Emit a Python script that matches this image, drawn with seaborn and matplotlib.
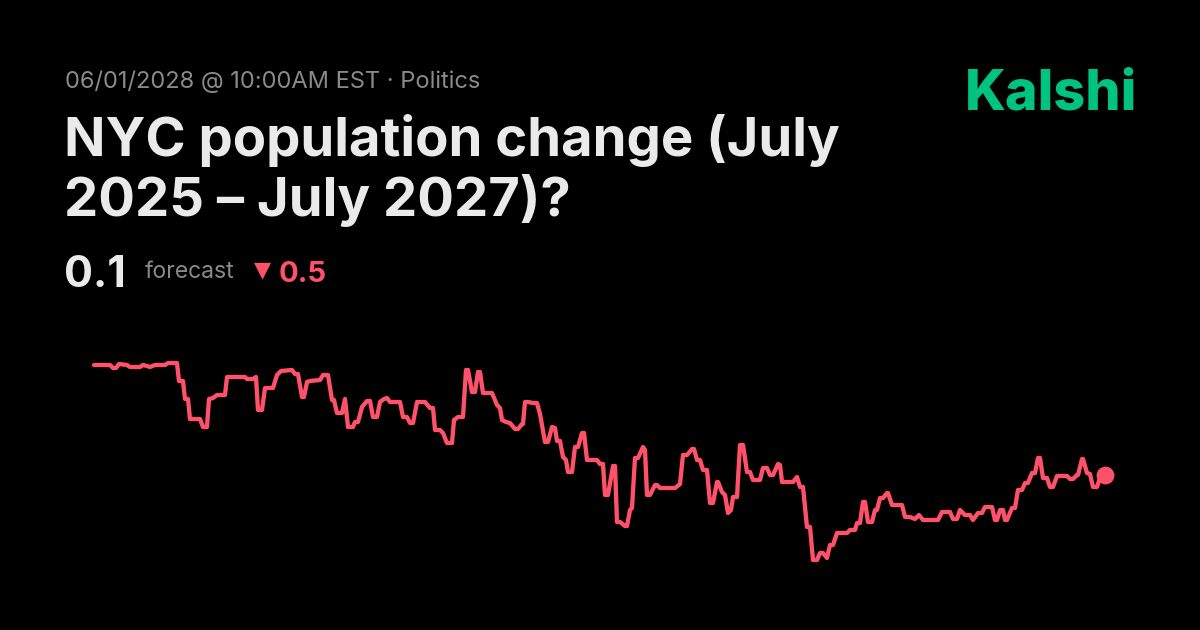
import matplotlib
matplotlib.use("Agg")
import matplotlib.pyplot as plt
import seaborn as sns
import pandas as pd

# forecast history (day index, forecast value)
days = [0, 16, 19, 22, 25, 33, 36, 46, 49, 53, 56, 61, 71, 74, 83, 85, 89, 91, 94, 96,
        106, 109, 113, 115, 119, 123, 131, 133, 151, 153, 159, 162, 164, 168, 171, 179, 183, 187, 198, 201,
        204, 208, 210, 213, 216, 226, 229, 234, 238, 240, 243, 248, 251, 254, 259, 261, 264, 268, 273, 276,
        279, 283, 286, 290, 293, 296, 306, 309, 313, 316, 319, 323, 331, 336, 339, 341, 346, 349, 353, 358,
        360, 364, 369, 372, 374, 378, 381, 384, 386, 389, 398, 403, 406, 408, 412, 416, 421, 424, 428, 429,
        431, 434, 439, 443, 446, 451, 454, 458, 461, 463, 466, 469, 472, 474, 478, 481, 484, 488, 490, 493,
        503, 506, 509, 511, 514, 519, 521, 523, 526, 531, 533, 536, 538, 541, 544, 549, 551, 553, 556, 561,
        563, 566, 581, 586, 589, 593, 598, 600, 603, 606, 609, 613, 616, 619, 623, 624, 628, 631, 634, 637,
        639, 643, 646, 649, 653, 656, 659, 666, 669, 673, 676, 679, 684, 686, 688, 699, 703, 706, 709, 713,
        716, 719, 723, 726, 729, 733, 736, 739, 743, 753, 756, 761, 763, 766, 769, 771, 774, 778, 781, 783,
        786, 789, 793, 794, 798, 808, 811, 816, 821, 825, 829, 844, 848, 856, 859, 863, 866, 871, 876, 879,
        884, 888, 891, 898, 901, 903, 906, 909, 911, 913, 918, 921, 924, 928, 931, 934, 938, 941, 944, 946,
        949, 953, 956, 959, 963, 973, 976, 979, 983, 984, 988, 989, 993, 996, 999, 1003, 1006, 1011]
forecast = [1.20, 1.20, 1.17, 1.17, 1.21, 1.20, 1.18, 1.18, 1.20, 1.19, 1.18, 1.20, 1.20, 1.22, 1.22, 1.04, 1.04, 0.86, 0.86, 0.66,
            0.66, 0.58, 0.58, 0.86, 0.87, 0.90, 0.90, 1.08, 1.08, 1.06, 1.06, 1.08, 0.75, 0.75, 0.97, 0.97, 1.10, 1.14, 1.15, 1.11,
            1.11, 0.88, 0.88, 1.03, 1.04, 1.05, 1.10, 1.10, 0.85, 0.85, 0.72, 0.72, 0.86, 0.58, 0.58, 0.63, 0.63, 0.78, 0.84, 0.84,
            0.68, 0.68, 0.83, 0.86, 0.87, 0.83, 0.83, 0.68, 0.68, 0.62, 0.62, 0.83, 0.83, 0.77, 0.77, 0.55, 0.55, 0.52, 0.42, 0.42,
            0.65, 0.68, 0.68, 1.15, 1.15, 0.93, 0.93, 1.13, 1.13, 0.92, 0.92, 0.80, 0.77, 0.65, 0.63, 0.62, 0.56, 0.56, 0.61, 0.61,
            0.83, 0.83, 0.82, 0.82, 0.71, 0.43, 0.43, 0.58, 0.57, 0.44, 0.44, 0.28, 0.25, 0.13, 0.13, 0.38, 0.38, 0.52, 0.52, 0.25,
            0.25, 0.21, 0.21, -0.10, -0.10, 0.19, 0.19, -0.37, -0.37, -0.41, -0.41, -0.25, -0.23, 0.27, 0.27, 0.38, 0.35, -0.10, -0.10, 0.00,
            0.00, -0.03, -0.03, 0.01, 0.30, 0.30, 0.36, 0.36, 0.25, 0.25, 0.15, 0.15, -0.18, -0.18, 0.03, 0.03, -0.07, -0.10, -0.28, -0.25,
            -0.12, -0.12, 0.40, 0.40, 0.13, 0.13, 0.05, 0.05, 0.17, 0.17, 0.10, 0.10, 0.21, 0.20, 0.03, 0.03, 0.08, -0.02, -0.02, -0.42,
            -0.42, -0.75, -0.75, -0.68, -0.68, -0.73, -0.60, -0.60, -0.48, -0.48, -0.45, -0.45, -0.38, -0.38, -0.17, -0.17, -0.37, -0.37, -0.25, -0.25,
            -0.13, -0.13, -0.08, -0.08, -0.20, -0.20, -0.32, -0.32, -0.34, -0.30, -0.35, -0.35, -0.27, -0.27, -0.34, -0.34, -0.25, -0.30, -0.30, -0.35,
            -0.28, -0.28, -0.22, -0.22, -0.35, -0.35, -0.25, -0.25, -0.35, -0.35, -0.23, -0.23, -0.05, -0.05, 0.02, 0.02, 0.12, 0.12, 0.27, 0.27,
            0.07, 0.07, -0.02, -0.02, 0.09, 0.09, 0.06, 0.06, 0.10, 0.10, 0.26, 0.26, 0.12, 0.11, -0.02, -0.02, 0.07, 0.10]

headline = "06/01/2028 @ 10:00AM EST · Politics"
title_lines = ["NYC population change (July", "2025 – July 2027)?"]
current_value = "0.1"
change_value = "0.5"

RED = "#FF5169"
BG = "#000000"

sns.set_style("dark", rc={"axes.facecolor": BG, "figure.facecolor": BG})
plt.rcParams["font.family"] = ["Inter", "DejaVu Sans"]

df = pd.DataFrame({"day": days, "forecast": forecast})

fig = plt.figure(figsize=(12, 6.3), dpi=100)
ax = fig.add_axes([84 / 1200, 60 / 630, 1032 / 1200, 215 / 630])
sns.lineplot(data=df, x="day", y="forecast", ax=ax, color=RED, linewidth=3.1,
             solid_joinstyle="round", solid_capstyle="round")
ax.scatter(df["day"].iloc[-1], df["forecast"].iloc[-1], s=165, color=RED, zorder=5, linewidths=0)
ax.set_xlim(-10, 1022)
ax.set_ylim(-0.85, 1.30)
ax.axis("off")

def fy(py):
    return 1 - py / 630

fig.text(65 / 1200, fy(88), headline, color="#8A8A8A", fontsize=17, va="baseline")
fig.text(64 / 1200, fy(156), title_lines[0], color="#EAEAEA", fontsize=39.2, fontweight="bold", va="baseline")
fig.text(64 / 1200, fy(216), title_lines[1], color="#EAEAEA", fontsize=39.2, fontweight="bold", va="baseline")
fig.text(64 / 1200, fy(287), current_value, color="#EAEAEA", fontsize=31, fontweight="bold", va="baseline")
fig.text(145 / 1200, fy(278), "forecast", color="#8A8A8A", fontsize=16.5, va="baseline")
fig.text(254 / 1200, fy(276), "▼", color=RED, fontsize=16, va="baseline", family=["DejaVu Sans"])
fig.text(279 / 1200, fy(282), change_value, color=RED, fontsize=21, fontweight="bold", va="baseline")
fig.text(1137 / 1200, fy(110), "Kalshi", color="#00C37F", fontsize=40, fontweight="heavy",
         va="baseline", ha="right")

fig.savefig("out.png", dpi=100, facecolor=BG)
